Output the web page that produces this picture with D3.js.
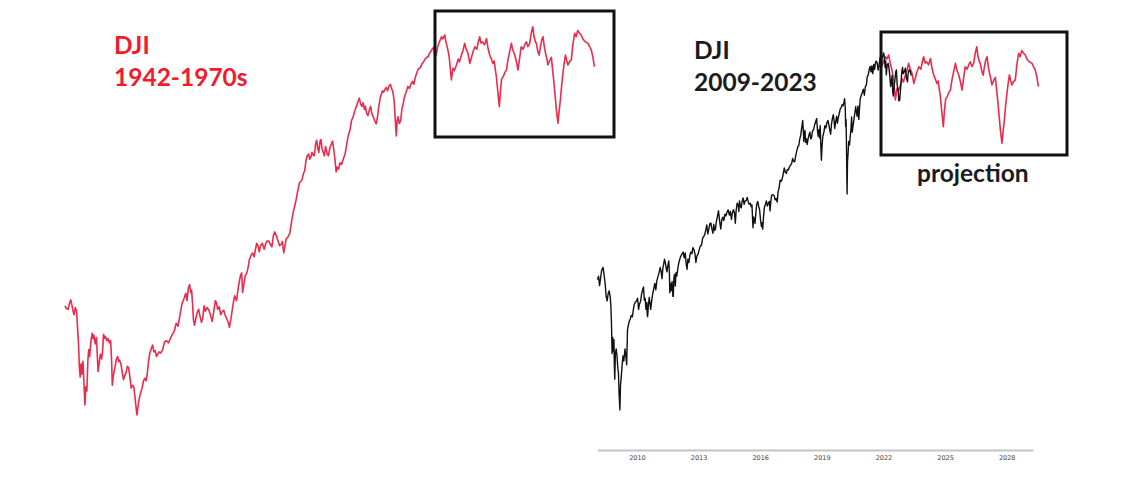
<!DOCTYPE html>
<html><head><meta charset="utf-8">
<script src="https://cdn.jsdelivr.net/npm/d3@7"></script>
<style>
html,body{margin:0;padding:0;background:#fff;}
svg{display:block;}
</style></head>
<body>
<svg id="chart" width="1131" height="484"></svg>
<script>
// ---- DATA ----
// Left panel: DJI (log scale), [year, level]
const djiHistYears = [1936.70,1936.80,1936.95,1937.05,1937.15,1937.22,1937.30,1937.40,1937.50,1937.60,1937.68,1937.75,1937.82,1937.88,1937.95,1938.02,1938.10,1938.18,1938.25,1938.32,1938.40,1938.48,1938.55,1938.62,1938.72,1938.82,1938.88,1938.95,1939.05,1939.15,1939.22,1939.28,1939.35,1939.45,1939.55,1939.62,1939.70,1939.78,1939.85,1939.95,1940.05,1940.15,1940.25,1940.33,1940.38,1940.45,1940.52,1940.60,1940.70,1940.80,1940.88,1940.95,1941.05,1941.15,1941.25,1941.35,1941.45,1941.55,1941.65,1941.75,1941.85,1941.95,1942.05,1942.15,1942.25,1942.30,1942.40,1942.50,1942.60,1942.70,1942.80,1942.90,1943.00,1943.10,1943.20,1943.30,1943.42,1943.52,1943.62,1943.72,1943.82,1943.92,1944.02,1944.15,1944.30,1944.45,1944.60,1944.75,1944.90,1945.05,1945.20,1945.35,1945.50,1945.65,1945.80,1945.95,1946.10,1946.20,1946.30,1946.40,1946.48,1946.55,1946.62,1946.70,1946.78,1946.88,1946.98,1947.10,1947.20,1947.32,1947.42,1947.52,1947.62,1947.75,1947.90,1948.02,1948.15,1948.28,1948.40,1948.48,1948.58,1948.70,1948.82,1948.92,1949.05,1949.15,1949.28,1949.40,1949.50,1949.62,1949.75,1949.90,1950.05,1950.20,1950.35,1950.45,1950.52,1950.60,1950.72,1950.85,1950.95,1951.05,1951.18,1951.30,1951.42,1951.52,1951.62,1951.72,1951.82,1951.92,1952.05,1952.20,1952.30,1952.42,1952.55,1952.68,1952.80,1952.92,1953.02,1953.15,1953.28,1953.40,1953.52,1953.62,1953.72,1953.82,1953.92,1954.05,1954.20,1954.35,1954.50,1954.65,1954.80,1954.95,1955.05,1955.15,1955.25,1955.35,1955.45,1955.55,1955.65,1955.75,1955.82,1955.92,1956.02,1956.10,1956.20,1956.28,1956.38,1956.45,1956.55,1956.62,1956.70,1956.78,1956.88,1956.98,1957.10,1957.20,1957.32,1957.42,1957.52,1957.62,1957.72,1957.80,1957.88,1957.98,1958.10,1958.22,1958.35,1958.50,1958.62,1958.75,1958.88,1959.00,1959.12,1959.25,1959.38,1959.50,1959.60,1959.70,1959.80,1959.90,1960.00,1960.08,1960.18,1960.28,1960.38,1960.48,1960.58,1960.68,1960.80,1960.92,1961.02,1961.12,1961.25,1961.40,1961.50,1961.60,1961.70,1961.80,1961.92,1962.02,1962.12,1962.22,1962.32,1962.40,1962.48,1962.55,1962.62,1962.72,1962.82,1962.92,1963.02,1963.12,1963.25,1963.38,1963.50,1963.62,1963.75,1963.85,1963.95,1964.08,1964.20,1964.35,1964.48,1964.60,1964.72,1964.85,1964.95,1965.08,1965.20,1965.30,1965.40,1965.48,1965.58,1965.70,1965.85,1966.00,1966.10,1966.25,1966.35,1966.50,1966.60,1966.70,1966.77,1966.84,1966.90,1967.00,1967.16,1967.30,1967.40,1967.55,1967.68,1967.80,1967.92,1968.06,1968.20,1968.30,1968.45,1968.60,1968.75,1968.87,1968.97,1969.08,1969.20,1969.35,1969.50,1969.62,1969.75,1969.88,1970.00,1970.10,1970.20,1970.27,1970.35,1970.42,1970.50,1970.58,1970.68,1970.80,1970.92,1971.05,1971.18,1971.30,1971.44,1971.55,1971.70,1971.82,1971.95,1972.05,1972.20,1972.35,1972.50,1972.60,1972.72,1972.86,1972.98,1973.10,1973.20,1973.30,1973.38,1973.50,1973.60,1973.72,1973.82,1973.90,1974.00,1974.10,1974.20,1974.28,1974.40,1974.55,1974.65,1974.72,1974.80,1974.88,1974.94,1975.00,1975.06,1975.15,1975.25,1975.35,1975.45,1975.55,1975.64,1975.75,1975.84,1975.95,1976.10,1976.22,1976.36,1976.48,1976.60,1976.75,1976.88,1977.00,1977.10,1977.25,1977.40,1977.52,1977.66,1977.78,1977.90];
const djiHistValues = [184,181,180,187,191,186,180,174,182,178,160,146,125,118,128,120,130,112,99,111,108,131,140,134,148,155,150,153,145,151,133,122,128,136,132,138,154,150,152,148,150,146,148,130,112,118,122,126,132,134,130,131,128,122,116,119,121,126,125,118,110,112,111,104,96,93,99,104,107,110,115,117,115,120,130,137,141,144,138,139,134,136,138,137,140,147,148,146,150,154,157,165,162,174,186,192,199,190,206,210,200,203,188,168,163,170,176,180,173,166,170,184,178,182,179,174,167,178,190,188,180,183,174,177,179,174,170,166,161,170,183,196,190,208,222,226,200,208,222,226,234,246,252,256,250,262,272,268,258,268,272,262,270,276,276,270,266,286,292,285,276,268,270,275,256,268,280,283,290,315,335,352,375,398,400,405,420,428,455,470,475,460,465,480,472,470,505,518,490,480,515,520,492,482,470,498,476,470,495,505,515,488,455,425,438,432,450,445,460,476,505,535,552,586,600,622,640,660,674,650,640,655,628,640,612,604,625,640,612,600,585,574,600,640,680,705,700,712,720,705,728,734,715,700,660,590,532,585,600,575,585,630,652,680,700,725,715,735,748,735,765,790,810,815,835,845,860,870,872,895,905,920,925,870,880,929,960,989,975,1000,955,910,870,800,755,790,813,800,829,860,845,882,910,949,915,892,837,860,900,929,915,960,989,950,958,940,978,920,882,860,837,850,800,770,720,680,639,700,760,770,790,803,860,900,949,910,882,850,803,850,929,915,945,958,930,949,1010,1053,990,960,949,900,882,940,975,989,930,892,860,829,850,869,800,760,709,660,626,600,576,620,666,730,787,840,882,850,829,845,856,940,1010,990,1028,1010,1000,975,966,955,949,930,910,870,820];
// Start of the highlighted (boxed) stretch reused as the projection
const projectionFromYear = 1965.70;

// Right panel: DJI 2008-2023 (log scale), [year, level]
const djiNowYears = [2008.08,2008.13,2008.18,2008.22,2008.28,2008.35,2008.40,2008.45,2008.50,2008.55,2008.60,2008.65,2008.70,2008.73,2008.76,2008.79,2008.82,2008.85,2008.88,2008.90,2008.92,2008.95,2008.99,2009.03,2009.07,2009.10,2009.13,2009.17,2009.20,2009.23,2009.27,2009.32,2009.36,2009.42,2009.46,2009.50,2009.54,2009.58,2009.63,2009.68,2009.72,2009.78,2009.82,2009.87,2009.92,2009.97,2010.03,2010.08,2010.12,2010.18,2010.23,2010.28,2010.32,2010.36,2010.40,2010.44,2010.48,2010.50,2010.52,2010.56,2010.60,2010.64,2010.67,2010.72,2010.77,2010.82,2010.87,2010.92,2010.97,2011.03,2011.08,2011.13,2011.18,2011.22,2011.26,2011.30,2011.34,2011.38,2011.42,2011.46,2011.50,2011.55,2011.58,2011.60,2011.63,2011.67,2011.71,2011.75,2011.77,2011.80,2011.83,2011.87,2011.90,2011.94,2011.99,2012.05,2012.12,2012.18,2012.25,2012.30,2012.35,2012.40,2012.44,2012.48,2012.53,2012.58,2012.63,2012.68,2012.72,2012.78,2012.83,2012.87,2012.92,2012.97,2013.03,2013.08,2013.14,2013.20,2013.26,2013.30,2013.36,2013.40,2013.45,2013.50,2013.55,2013.60,2013.65,2013.70,2013.74,2013.78,2013.82,2013.86,2013.92,2013.97,2014.03,2014.08,2014.13,2014.18,2014.23,2014.28,2014.33,2014.38,2014.44,2014.50,2014.55,2014.60,2014.65,2014.70,2014.75,2014.79,2014.83,2014.88,2014.93,2014.96,2014.99,2015.04,2015.08,2015.12,2015.17,2015.22,2015.27,2015.32,2015.37,2015.42,2015.47,2015.52,2015.56,2015.60,2015.63,2015.65,2015.68,2015.72,2015.75,2015.78,2015.83,2015.88,2015.93,2015.97,2016.02,2016.06,2016.10,2016.12,2016.16,2016.20,2016.25,2016.30,2016.35,2016.40,2016.45,2016.48,2016.52,2016.56,2016.62,2016.68,2016.73,2016.78,2016.83,2016.87,2016.92,2016.97,2017.03,2017.08,2017.13,2017.17,2017.22,2017.27,2017.32,2017.37,2017.42,2017.48,2017.53,2017.58,2017.63,2017.68,2017.73,2017.78,2017.83,2017.88,2017.92,2017.97,2018.03,2018.07,2018.10,2018.12,2018.15,2018.18,2018.21,2018.25,2018.29,2018.33,2018.38,2018.42,2018.46,2018.50,2018.55,2018.60,2018.65,2018.70,2018.75,2018.79,2018.82,2018.86,2018.89,2018.92,2018.95,2018.98,2019.01,2019.05,2019.10,2019.15,2019.20,2019.25,2019.30,2019.35,2019.40,2019.43,2019.47,2019.52,2019.56,2019.60,2019.63,2019.67,2019.72,2019.76,2019.80,2019.85,2019.90,2019.95,2019.99,2020.03,2020.07,2020.11,2020.14,2020.16,2020.18,2020.20,2020.22,2020.23,2020.25,2020.28,2020.31,2020.35,2020.38,2020.42,2020.45,2020.48,2020.52,2020.56,2020.60,2020.65,2020.68,2020.72,2020.76,2020.80,2020.84,2020.87,2020.92,2020.97,2021.02,2021.07,2021.12,2021.17,2021.21,2021.26,2021.31,2021.35,2021.40,2021.44,2021.48,2021.53,2021.57,2021.61,2021.65,2021.70,2021.74,2021.78,2021.83,2021.87,2021.90,2021.93,2021.97,2022.01,2022.05,2022.08,2022.11,2022.14,2022.18,2022.23,2022.27,2022.31,2022.35,2022.38,2022.42,2022.45,2022.48,2022.52,2022.56,2022.60,2022.63,2022.67,2022.71,2022.75,2022.79,2022.82,2022.86,2022.89,2022.93,2022.96,2022.99,2023.03,2023.07,2023.12,2023.17,2023.20,2023.25,2023.30,2023.35];
const djiNowValues = [12300,12500,11950,12300,12850,13050,12600,12100,11350,11100,11500,11650,11300,10850,9950,8600,9300,8700,9200,8100,7600,8600,8800,8500,8000,7850,7100,6550,7400,7600,8050,8500,8300,8800,8500,8150,9650,9860,10070,10180,10340,10280,10600,10920,11020,11080,11240,10650,10920,11080,11500,11710,11870,11130,11240,10650,11020,10390,10280,10920,11290,10920,10650,11130,11500,11770,12080,11710,12240,12510,12720,13040,12770,12350,12990,13250,13570,13360,13040,12770,13140,13460,12720,11550,12080,11660,12190,11340,11340,12400,12610,11930,12720,12510,12990,13410,13730,13890,14050,13670,13990,13250,12930,13570,13360,13890,14050,13940,14360,14200,13890,13360,13780,13890,14200,14460,14510,15030,15180,15290,15700,16020,15340,15700,16120,16170,15700,15390,16070,15600,15700,16220,16690,17160,16270,15710,16420,16630,16370,16880,16730,17030,17240,16800,17100,16450,17000,17250,16950,16150,17200,17800,17650,17100,18000,17500,17400,18000,18250,17700,18000,18050,18300,17900,17700,17800,17500,17650,16450,15800,16650,16350,16150,16800,17700,17950,17500,17250,16350,15900,16200,15700,16600,17400,17700,18000,17550,17800,17950,17150,18000,18500,18550,18450,18100,18200,17900,18800,19150,19900,19800,20100,20600,21100,20700,20550,20950,20900,21200,21400,21550,22100,21800,21750,22400,22900,23400,23500,24200,24700,25800,26550,25300,24000,24900,25300,23900,24300,23650,24300,24800,25100,24300,24400,25300,25400,26000,26400,26800,25300,24600,25400,24400,25900,23600,21900,23400,24600,25100,25900,25600,26300,26550,25900,25200,24850,26100,26900,27300,26400,25550,26300,27100,26200,26900,27500,28100,28300,28650,28500,28900,29500,28200,25800,26700,23500,19900,18600,21700,22700,24000,23600,24500,25500,27000,25100,25900,26600,27400,28400,27700,27100,28500,26700,28300,29500,30000,30400,30900,30000,31300,31500,32800,33100,34000,34500,33600,34600,33300,34800,34000,35100,35400,35000,33900,34500,35800,36300,34500,35800,36300,36800,35900,34300,35400,33100,34700,35000,34200,32900,31300,31900,33000,30500,29900,31300,32400,33600,33900,31500,30800,29200,29300,30400,32000,33500,34300,33300,33400,33800,34200,32600,32000,33300,33900,33800,33000];

const axisYears = [2010, 2013, 2016, 2019, 2022, 2025, 2028];
const titleLeft = ["DJI", "1942-1970s"];
const titleRight = ["DJI", "2009-2023"];
const projectionLabel = "projection";

// ---- DRAW ----
const svg = d3.select("#chart");
const RED = "#e8193c", TXT_RED = "#ee1c2c", DARK = "#1b1b1b";

const histData = djiHistYears.map((y, i) => ({year: y, v: djiHistValues[i]}));
const nowData = djiNowYears.map((y, i) => ({year: y, v: djiNowValues[i]}));

// left panel scales
const xL = d3.scaleLinear().domain([1936.7, 1978.1]).range([65, 597]);
const yL = d3.scaleLog().domain([93, 1051]).range([415, 27]);
// right panel scales
const xR = d3.scaleLinear().domain([2008.08, 2029.28]).range([597.5, 1033]);
const yR = d3.scaleLog().domain([6547, 36800]).range([410, 53]);
// projection: the boxed left stretch placed at the right panel's box
const shiftX = 444, shiftY = 20;
const xP = d3.scaleLinear().domain(xL.domain()).range(xL.range().map(r => r + shiftX));
const yP = d3.scaleLog().domain(yL.domain()).range(yL.range().map(r => r + shiftY));

const lineL = d3.line().x(d => xL(d.year)).y(d => yL(d.v));
const lineR = d3.line().x(d => xR(d.year)).y(d => yR(d.v));
const lineP = d3.line().x(d => xP(d.year)).y(d => yP(d.v));

// left series
svg.append("path").datum(histData).attr("d", lineL)
  .attr("fill", "none").attr("stroke", RED).attr("stroke-width", 1.6)
  .attr("stroke-linejoin", "round").attr("opacity", 0.92);

// projection (red) on right, then black actual on top
svg.append("path").datum(histData.filter(d => d.year >= projectionFromYear)).attr("d", lineP)
  .attr("fill", "none").attr("stroke", RED).attr("stroke-width", 1.6)
  .attr("stroke-linejoin", "round").attr("opacity", 0.92);

svg.append("path").datum(nowData).attr("d", lineR)
  .attr("fill", "none").attr("stroke", "#111").attr("stroke-width", 1.4)
  .attr("stroke-linejoin", "round");

// boxes
svg.append("rect").attr("x", 435).attr("y", 11).attr("width", 179).attr("height", 126)
  .attr("fill", "none").attr("stroke", "#111").attr("stroke-width", 3);
svg.append("rect").attr("x", 881).attr("y", 32).attr("width", 186).attr("height", 123)
  .attr("fill", "none").attr("stroke", "#111").attr("stroke-width", 3);

// axis (right panel)
const axis = d3.axisBottom(xR).tickValues(axisYears).tickSize(0).tickPadding(5).tickFormat(d3.format("d"));
const gAx = svg.append("g").attr("transform", "translate(0,450)").call(axis);
gAx.select(".domain").attr("stroke", "#c4c4c4").attr("stroke-width", 2.2);
gAx.selectAll("text").attr("font-family", "DejaVu Sans, sans-serif").attr("font-size", 6.5).attr("fill", "#444");

// titles
const font = "Lato, 'Open Sans', sans-serif";
titleLeft.forEach((t, i) => {
  svg.append("text").attr("x", 114).attr("y", 54 + i * 32).text(t)
    .attr("font-family", font).attr("font-weight", 700).attr("font-size", 24.5).attr("fill", TXT_RED);
});
titleRight.forEach((t, i) => {
  svg.append("text").attr("x", 694).attr("y", 59 + i * 32).text(t)
    .attr("font-family", font).attr("font-weight", 700).attr("font-size", 24.5).attr("fill", DARK);
});
svg.append("text").attr("x", 917).attr("y", 182).text(projectionLabel)
  .attr("font-family", font).attr("font-weight", 700).attr("font-size", 24.5).attr("fill", DARK);
</script>
</body></html>
